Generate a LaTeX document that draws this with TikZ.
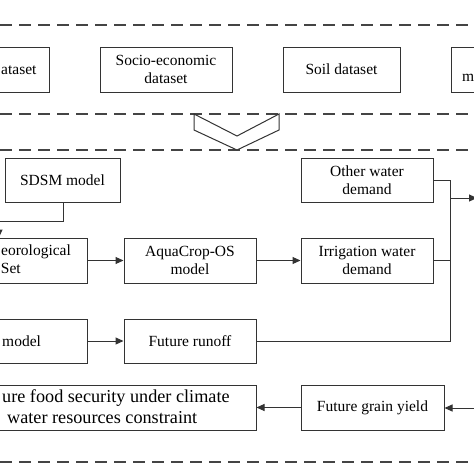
\documentclass[tikz,border=0pt]{standalone}
\usepackage{fontspec}
\setmainfont{Liberation Serif}
\usetikzlibrary{arrows.meta}
\definecolor{linegray}{HTML}{333333}
\definecolor{dashgray}{HTML}{444444}
\tikzset{
  box/.style 2 args={draw=linegray, line width=1pt, inner sep=0pt, align=center,
    font=\fontsize{15.5}{18}\selectfont, text=black,
    minimum width=#1, minimum height=#2},
  bigtext/.style={inner sep=0pt, font=\fontsize{18.2}{21}\selectfont, text=black},
  smalltext/.style={inner sep=0pt, font=\fontsize{15.5}{18}\selectfont, text=black},
  sep/.style={draw=dashgray, line width=1.8pt, dash pattern=on 12pt off 7pt},
  conn/.style={draw=linegray, line width=1pt},
  arr/.style={conn, -{Triangle[length=8pt,width=7pt]}},
}
\begin{document}
\begin{tikzpicture}[x=1pt,y=-1pt]
\useasboundingbox (0,0) rectangle (474,474);
% separators
\coordinate (s1a) at (0,25);   \coordinate (s1b) at (480,25);
\coordinate (s2a) at (0,114);  \coordinate (s2b) at (480,114);
\coordinate (s3a) at (0,150);  \coordinate (s3b) at (480,150);
\coordinate (s4a) at (0,462);  \coordinate (s4b) at (480,462);
\draw[sep] (s1a) -- (s1b);
\draw[sep] (s2a) -- (s2b);
\draw[sep] (s3a) -- (s3b);
\draw[sep] (s4a) -- (s4b);
% chevron
\draw[conn, fill=white] (194,114) -- (237,136) -- (279,114) -- (279,130) -- (237,150) -- (194,130) -- cycle;
% datasets
\node[box={129pt}{45pt}] (ds1) at (-15.5,69.5) {};
\node[smalltext, anchor=base west] (ds1t) at (1,74) {ataset};
\node[box={132pt}{45pt}] (ds2) at (166,69.5) {Socio-economic\\dataset};
\node[box={117pt}{45pt}] (ds3) at (341.5,69.5) {Soil dataset};
\node[box={109pt}{45pt}] (ds4) at (505.5,69.5) {};
\node[smalltext, anchor=base west] (ds4t) at (462,81) {m};
% models
\node[box={115pt}{44pt}] (sdsm) at (62.5,180) {SDSM model};
\node[box={132pt}{44pt}] (other) at (367,180) {Other water\\demand};
\node[box={147pt}{45pt}] (met) at (13.5,260.5) {};
\node[smalltext, anchor=base west] (mett1) at (1,255) {eorological};
\node[smalltext, anchor=base east] (mett2) at (21,273) {Set};
\node[box={132pt}{45pt}] (aqua) at (190,260.5) {AquaCrop-OS\\model};
\node[box={132pt}{45pt}] (irr) at (367,260.5) {Irrigation water\\demand};
\node[box={147pt}{44pt}] (hyd) at (13.5,341) {};
\node[smalltext, anchor=west] (hydt) at (2,341) {model};
\node[box={132pt}{44pt}] (runoff) at (190,341) {Future runoff};
\node[box={316pt}{45pt}] (food) at (98,407.5) {};
\node[bigtext, anchor=base west] (foodt1) at (2,402) {ure food security under climate};
\node[bigtext, anchor=base west] (foodt2) at (7,423) {water resources constraint};
\node[box={143pt}{45pt}] (grain) at (372.5,407.5) {Future grain yield};
% connectors
\coordinate (c1) at (63,221);
\coordinate (c2) at (-1,221);
\draw[arr] (sdsm.south -| c1) -- (c1) -- (c2) -- (c2 |- met.north);
\draw[arr] (met.east |- aqua.west) -- (aqua.west);
\draw[arr] (aqua.east) -- (irr.west);
\coordinate (j1) at (450,180);
\coordinate (j2) at (450,341);
\coordinate (j3) at (450,198);
\coordinate (out1) at (477,198);
\draw[conn] (other.east |- j1) -- (j1) -- (j2) -- (runoff.east |- j2);
\draw[conn] (irr.east) -- (irr.east -| j1);
\draw[arr] (j3) -- (out1);
\draw[arr] (hyd.east |- runoff.west) -- (runoff.west);
\draw[arr] (grain.west) -- (food.east |- grain.west);
\coordinate (in1) at (482,408);
\draw[arr] (in1) -- (grain.east |- in1);
\end{tikzpicture}
\end{document}
